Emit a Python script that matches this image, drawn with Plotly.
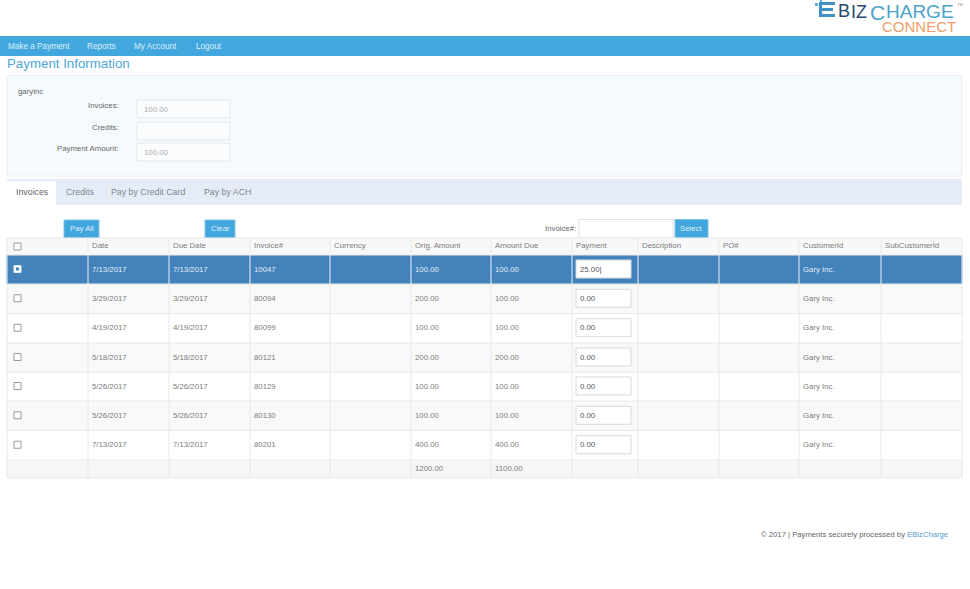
#!/usr/bin/env python3
"""Payment Information page, redrawn with plotly"""

import plotly.graph_objects as go

# page texts
nav_items = ["Make a Payment", "Reports", "My Account", "Logout"]
tab_names = ["Invoices", "Credits", "Pay by Credit Card", "Pay by ACH"]
form_labels = ["Invoices:", "Credits:", "Payment Amount:"]
form_values = ["100.00", "", "100.00"]

# table data
headers = ["", "Date", "Due Date", "Invoice#", "Currency", "Orig. Amount", "Amount Due",
           "Payment", "Description", "PO#", "CustomerId", "SubCustomerId"]
dates = ["7/13/2017", "3/29/2017", "4/19/2017", "5/18/2017", "5/26/2017", "5/26/2017", "7/13/2017"]
due_dates = ["7/13/2017", "3/29/2017", "4/19/2017", "5/18/2017", "5/26/2017", "5/26/2017", "7/13/2017"]
invoices = ["10047", "80094", "80099", "80121", "80129", "80130", "80201"]
orig_amounts = ["100.00", "200.00", "100.00", "200.00", "100.00", "100.00", "400.00"]
amounts_due = ["100.00", "100.00", "100.00", "200.00", "100.00", "100.00", "400.00"]
payments = ["25.00", "0.00", "0.00", "0.00", "0.00", "0.00", "0.00"]
customers = ["Gary Inc."] * 7
total_orig = "1200.00"
total_due = "1100.00"

# layout
FONT = "Liberation Sans"
BLUE = "#41a7dd"
GREY = "#7c7c7c"
LABEL = "#666666"
TS = 7.8
col_edges = [7, 88, 169, 250, 330, 411, 491, 572, 638, 719, 799, 881, 962]
row_tops = [255, 284, 313.5, 343, 372, 401, 430.5, 460]

shapes = []
annotations = []


def rect(x0, y0, x1, y1, fill, line=None, lw=1):
    shapes.append(dict(type="rect", xref="x", yref="y", x0=x0, y0=y0, x1=x1, y1=y1,
                       fillcolor=fill, layer="below",
                       line=dict(color=line or fill, width=lw if line else 0)))


def text(x, y, s, size=TS, color=GREY, anchor="left", family=FONT):
    annotations.append(dict(x=x, y=y, xref="x", yref="y", text=s, showarrow=False,
                            xanchor=anchor, yanchor="middle", borderpad=0, borderwidth=0,
                            font=dict(family=family, size=size, color=color)))


def vline(x, y0, y1, color):
    shapes.append(dict(type="line", xref="x", yref="y", x0=x, x1=x, y0=y0, y1=y1, layer="below",
                       line=dict(color=color, width=1)))


def hline(y, color="#e8e8e8"):
    shapes.append(dict(type="line", xref="x", yref="y", x0=7, x1=962, y0=y, y1=y, layer="below",
                       line=dict(color=color, width=1)))


def checkbox(x, y, checked=False):
    rect(x, y - 3.5, x + 7, y + 3.5, "#ffffff", "#9a9a9a" if not checked else "#dfe9f3")
    if checked:
        rect(x + 2, y - 1.5, x + 5, y + 1.5, "#4382bb")


# navigation
rect(0, 36, 970, 56, BLUE)
for x, s in zip([8, 87, 134, 196], nav_items):
    text(x, 46, s, size=8.2, color="#dff0fa")

# logo
rect(815, 3, 818, 6, "#56b0dc")
rect(820, 0, 822, 2, "#56b0dc")
rect(819, 2, 835, 5, "#3f93c4")
rect(819, 8, 833, 11, "#3f93c4")
rect(819, 14, 835, 17, "#3f93c4")
rect(819, 5, 822, 14, "#3f93c4")
text(838, 11, "B", size=18, color="#27476f")
text(851, 11.5, "IZ", size=18, color="#27476f")
text(870, 12, "C", size=21, color="#4aa3cc")
text(886, 11.5, "HARGE", size=19, color="#4aa3cc")
text(957, 4, "TM", size=4, color="#8a8a8a")
text(882, 26, "CONNECT", size=15, color="#ee9d6c")

# title and summary panel
text(7, 63, "Payment Information", size=13.3, color="#4ea6d9")
rect(7, 75.5, 962, 176, "#f5fafc", "#e9eff2")
text(18, 91, "garyinc", color=LABEL)
for y, label, value in zip([105, 127, 148], form_labels, form_values):
    text(119, y, label, color=LABEL, anchor="right")
    rect(137, y - 5, 230, y + 13, "#fafcfd", "#e3e8ea")
    text(144, y + 4.5, value, color="#aaaaaa")

# tabs
rect(7, 179, 962, 205, "#e6ecf6")
rect(7, 181, 56, 206, "#ffffff")
for x, s, c in zip([16, 66, 111, 204], tab_names, ["#666666", "#7a8794", "#7a8794", "#7a8794"]):
    text(x, 192, s, size=8.8, color=c)

# buttons
rect(64, 220, 99, 238, BLUE, "#7cc2e6")
text(81.5, 228.5, "Pay All", color="#dff0fa", anchor="center")
rect(205, 220, 235, 238, BLUE, "#7cc2e6")
text(220, 228.5, "Clear", color="#dff0fa", anchor="center")
text(576, 228, "Invoice#:", color=LABEL, anchor="right")
rect(579, 219.5, 673, 238, "#ffffff", "#dfe3e6")
rect(675, 219.5, 708, 238, BLUE, "#7cc2e6")
text(691.5, 228.5, "Select", color="#dff0fa", anchor="center")

# table header
rect(7, 238, 962, 255, "#f8f8f8")
for x, s in zip(col_edges, headers):
    if s:
        text(x + 4, 245.5, s)
checkbox(14, 246.5)

# table rows
for i in range(7):
    top, bottom = row_tops[i], row_tops[i + 1]
    mid = (top + bottom) / 2
    selected = i == 0
    fill = "#4382bb" if selected else ("#f9f9f9" if i % 2 == 1 else "#ffffff")
    rect(7, top, 962, bottom, fill)
    color = "#e3edf6" if selected else GREY
    checkbox(14, mid - 0.5, checked=selected)
    row_values = {1: dates[i], 2: due_dates[i], 3: invoices[i], 5: orig_amounts[i],
                  6: amounts_due[i], 10: customers[i]}
    for col, s in row_values.items():
        text(col_edges[col] + 4, mid - 0.5, s, color=color)
    # payment box
    rect(576, mid - 9.5, 631, mid + 8.5, "#ffffff", "#d5dade")
    text(580, mid - 0.5, payments[i] + ("|" if selected else ""), color="#555555")

# total row
rect(7, 460, 962, 478, "#f5f6f5")
text(col_edges[5] + 4, 468, total_orig)
text(col_edges[6] + 4, 468, total_due)

# grid lines
for x in col_edges:
    vline(x, 238, 478, "#e8e8e8")
    vline(x, row_tops[0], row_tops[1], "#9cc1e0")
for y in [238, 255] + row_tops[1:] + [478]:
    hline(y)

# footer
text(948, 534, "© 2017 | Payments securely processed by <span style='color:#5a9ad0'>EBizCharge</span>",
     size=7.7, color=LABEL, anchor="right")

fig = go.Figure()
fig.update_layout(
    width=970, height=589,
    margin=dict(l=0, r=0, t=0, b=0),
    paper_bgcolor="#ffffff", plot_bgcolor="#ffffff",
    xaxis=dict(range=[0, 970], visible=False, fixedrange=True),
    yaxis=dict(range=[589, 0], visible=False, fixedrange=True),
    showlegend=False,
    shapes=shapes,
    annotations=annotations,
)

fig.write_html("out.html", config={"displayModeBar": False},
               post_script="document.body.style.margin='0';document.body.style.overflow='hidden';")
